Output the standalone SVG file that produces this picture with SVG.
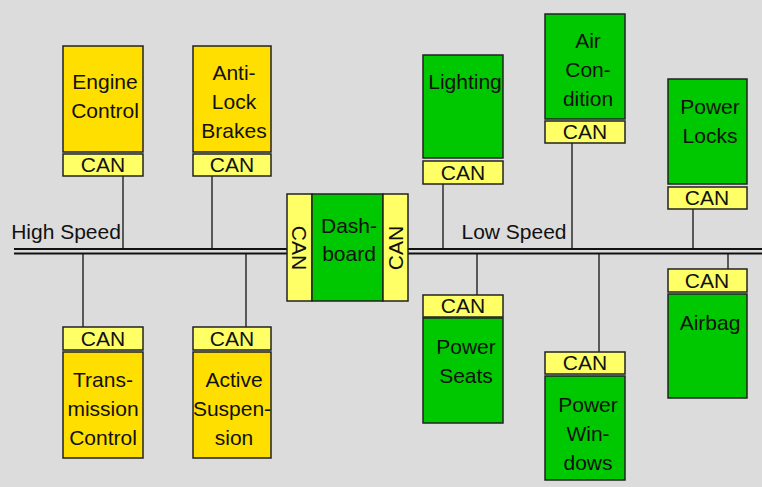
<svg xmlns="http://www.w3.org/2000/svg" width="762" height="487" viewBox="0 0 762 487">
<style>
text{font-family:"Liberation Sans",Arial,sans-serif;font-size:21px;fill:#111;text-anchor:middle}
.y{fill:#ffdf00;stroke:#222;stroke-width:1.5}
.g{fill:#00c800;stroke:#222;stroke-width:1.5}
.c{fill:#ffff66;stroke:#222;stroke-width:1.5}
.w{stroke:#111;stroke-width:1.3}
</style>
<rect width="762" height="487" fill="#dcdcdc"/>
<g id="connectors" class="w">
<line x1="14" y1="249" x2="762" y2="249" stroke-width="2"/>
<line x1="14" y1="253.5" x2="762" y2="253.5" stroke-width="2"/>
<line x1="123" y1="176" x2="123" y2="249"/>
<line x1="212" y1="176" x2="212" y2="249"/>
<line x1="83" y1="253" x2="83" y2="327"/>
<line x1="246" y1="253" x2="246" y2="327"/>
<line x1="443" y1="184" x2="443" y2="249"/>
<line x1="477" y1="253" x2="477" y2="295"/>
<line x1="572" y1="143" x2="572" y2="249"/>
<line x1="599" y1="253" x2="599" y2="352"/>
<line x1="693" y1="209" x2="693" y2="249"/>
<line x1="728" y1="253" x2="728" y2="269"/>
</g>
<text x="66" y="239">High Speed</text>
<text x="514" y="239">Low Speed</text>
<g id="engine"><rect class="y" x="63" y="46" width="80" height="106"/><text x="105" y="89">Engine</text><text x="105" y="118">Control</text><rect class="c" x="63" y="154" width="80" height="22"/><text x="103" y="172">CAN</text></g>
<g id="abs"><rect class="y" x="193" y="46" width="78" height="106"/><text x="234" y="80">Anti-</text><text x="234" y="109">Lock</text><text x="234" y="138">Brakes</text><rect class="c" x="193" y="154" width="78" height="22"/><text x="232" y="172">CAN</text></g>
<g id="trans"><rect class="c" x="63" y="327" width="80" height="23"/><text x="103" y="346">CAN</text><rect class="y" x="63" y="352" width="80" height="106"/><text x="103" y="387">Trans-</text><text x="103" y="416">mission</text><text x="103" y="445">Control</text></g>
<g id="susp"><rect class="c" x="193" y="327" width="78" height="23"/><text x="232" y="346">CAN</text><rect class="y" x="193" y="352" width="78" height="106"/><text x="234" y="387">Active</text><text x="232" y="416">Suspen-</text><text x="234" y="445">sion</text></g>
<g id="dashboard"><rect class="c" x="287" y="194" width="25" height="107"/><rect class="g" x="312" y="194" width="71" height="107"/><rect class="c" x="383" y="194" width="25" height="107"/><text x="349" y="233">Dash-</text><text x="349" y="261">board</text><text transform="translate(292,248) rotate(90)">CAN</text><text transform="translate(403,248) rotate(-90)">CAN</text></g>
<g id="lighting"><rect class="g" x="423" y="55" width="80" height="103"/><text x="465" y="89">Lighting</text><rect class="c" x="423" y="161" width="80" height="23"/><text x="463" y="180">CAN</text></g>
<g id="seats"><rect class="c" x="423" y="295" width="80" height="22"/><text x="463" y="313">CAN</text><rect class="g" x="423" y="318" width="80" height="105"/><text x="466" y="354">Power</text><text x="466" y="383">Seats</text></g>
<g id="air"><rect class="g" x="545" y="14" width="80" height="105"/><text x="588" y="48">Air</text><text x="588" y="77">Con-</text><text x="588" y="106">dition</text><rect class="c" x="545" y="121" width="80" height="22"/><text x="585" y="139">CAN</text></g>
<g id="windows"><rect class="c" x="545" y="352" width="80" height="22"/><text x="585" y="370">CAN</text><rect class="g" x="545" y="376" width="80" height="104"/><text x="588" y="412">Power</text><text x="588" y="441">Win-</text><text x="588" y="470">dows</text></g>
<g id="locks"><rect class="g" x="668" y="79" width="79" height="105"/><text x="710" y="114">Power</text><text x="710" y="143">Locks</text><rect class="c" x="668" y="187" width="79" height="22"/><text x="707" y="205">CAN</text></g>
<g id="airbag"><rect class="c" x="668" y="269" width="79" height="23"/><text x="707" y="288">CAN</text><rect class="g" x="668" y="294" width="79" height="104"/><text x="710" y="330">Airbag</text></g>
</svg>
